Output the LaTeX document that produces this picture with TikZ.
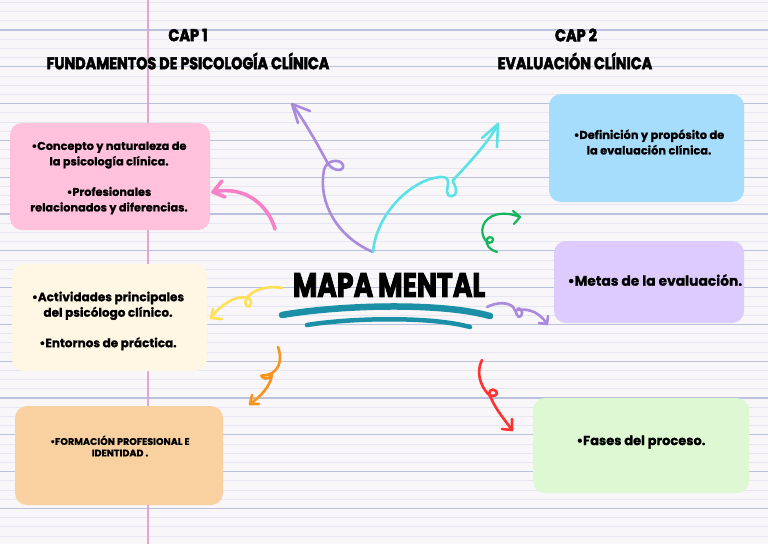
\documentclass[tikz,border=0pt]{standalone}
\usepackage{fontspec}
\setmainfont{Poppins}[BoldFeatures={FakeBold=0.8}]
\newfontfamily\heavyfont{Poppins}[BoldFeatures={FakeBold=3}]
\usepackage{graphicx}
\definecolor{bgc}{HTML}{F8F6F8}
\definecolor{thinl}{HTML}{E6E6F0}
\definecolor{heavyl}{HTML}{B9C1DD}
\definecolor{marg}{HTML}{E2A6D2}
\definecolor{bxpink}{HTML}{FFC1DC}
\definecolor{bxcream}{HTML}{FFF6E4}
\definecolor{bxorange}{HTML}{F9D1A1}
\definecolor{bxblue}{HTML}{A6DCFC}
\definecolor{bxpurple}{HTML}{DCCBFC}
\definecolor{bxgreen}{HTML}{DDF8D3}
\definecolor{arpurple}{HTML}{A98ADC}
\definecolor{arcyan}{HTML}{5CE1E6}
\definecolor{arpink}{HTML}{F780C6}
\definecolor{argreen}{HTML}{12B55A}
\definecolor{aryellow}{HTML}{FFDE59}
\definecolor{arorange}{HTML}{F7941D}
\definecolor{arred}{HTML}{FF3131}
\definecolor{teal}{HTML}{1A8FA6}
\begin{document}
\begin{tikzpicture}[x=1pt,y=-1pt,
  card/.style={rounded corners=12pt,draw=none},
  cardtext/.style={align=center,font=\bfseries\fontsize{11.3}{15.5}\selectfont,text=black},
  curly/.style={line width=2.6pt,line cap=round,line join=round},
  title/.style={font=\heavyfont\bfseries\fontsize{17}{20}\selectfont,text=black,align=center}]
\useasboundingbox (0,0) rectangle (768,544);
\fill[bgc] (0,0) rectangle (768,544);
% ruled lines
\foreach \k in {0,...,59}{
  \pgfmathsetmacro{\yy}{2.4+9.2*\k}
  \draw[thinl,line width=0.8pt] (0,\yy) -- (768,\yy);
}
\foreach \k in {0,...,14}{
  \pgfmathsetmacro{\yy}{30+36.8*\k}
  \draw[heavyl,line width=1.3pt] (0,\yy) -- (768,\yy);
}
\draw[marg,line width=1.5pt] (148,0) -- (148,544);

% titles
\node[title] (cap1) at (188,35) {\scalebox{0.85}[1]{CAP 1}};
\node[title] (fund) at (188,61) {\scalebox{0.84}[1]{FUNDAMENTOS DE PSICOLOGÍA CLÍNICA}};
\node[title] (cap2) at (576,35) {\scalebox{0.85}[1]{CAP 2}};
\node[title] (eval) at (575,61) {\scalebox{0.84}[1]{EVALUACIÓN CLÍNICA}};

% boxes
\fill[card,bxpink] (10,123) rectangle (210,230);
\fill[card,bxcream] (12,264) rectangle (207,371);
\fill[card,bxorange] (15,406) rectangle (223,505);
\fill[card,bxblue] (549,94) rectangle (744,202);
\fill[card,bxpurple] (554,241) rectangle (744,323);
\fill[card,bxgreen] (533,398) rectangle (749,493);

\node[cardtext] (t1) at (109,178) {•Concepto y naturaleza de\\la psicología clínica.\\[15pt]•Profesionales\\relacionados y diferencias.};
\node[cardtext,font=\bfseries\fontsize{12}{15.5}\selectfont] (t2) at (108,321) {•Actividades principales\\del psicólogo clínico.\\[15pt]•Entornos de práctica.};
\node[cardtext,font=\bfseries\fontsize{9.6}{11.5}\selectfont] (t3) at (120,446) {•FORMACIÓN PROFESIONAL E\\IDENTIDAD .};
\node[cardtext,font=\bfseries\fontsize{11.4}{15.5}\selectfont] (t4) at (649,142) {•Definición y propósito de\\la evaluación clínica.};
\node[cardtext,font=\bfseries\fontsize{13.8}{16}\selectfont] (t5) at (655,280) {•Metas de la evaluación.};
\node[cardtext,font=\bfseries\fontsize{13}{16}\selectfont] (t6) at (641,442) {•Fases del proceso.};

% central title
\node[font=\heavyfont\bfseries\fontsize{34}{40}\selectfont,text=black] (mapa) at (389,285) {\scalebox{0.785}[1]{MAPA\hspace{6pt}MENTAL}};
\coordinate (u1a) at (282,315);
\coordinate (u1b) at (490,316);
\coordinate (u2a) at (307,325);
\coordinate (u2b) at (470,327);
\draw[teal,line width=6.5pt,line cap=round] (u1a) .. controls (340,305) and (440,302) .. (u1b);
\draw[teal,line width=4.5pt,line cap=round] (u2a) .. controls (350,318) and (430,316) .. (u2b);

% arrows
% purple up-left
\coordinate (hub) at (373,252);
\coordinate (p1tip) at (292,104);
\draw[curly,arpurple] (hub) .. controls (335,236) and (318,200) .. (324,170)
  .. controls (326,160) and (340,158) .. (343,165)
  .. controls (345,172) and (332,172) .. (327,162)
  .. controls (318,145) and (305,122) .. (p1tip);
\draw[curly,arpurple] (310,111) -- (p1tip) -- (298,123);
% cyan up-right
\coordinate (c1tip) at (498,124);
\draw[curly,arcyan] (hub) .. controls (376,215) and (410,180) .. (440,177)
  .. controls (452,176) and (447,186) .. (447,192)
  .. controls (447,198) and (457,198) .. (456,190)
  .. controls (455,182) and (450,181) .. (455,178)
  .. controls (472,160) and (490,140) .. (c1tip);
\draw[curly,arcyan] (482,138) -- (c1tip) -- (497,147);
% pink
\coordinate (pkstart) at (275,229);
\coordinate (pktip) at (213,192);
\draw[curly,arpink,line width=3.6pt] (pkstart) .. controls (268,205) and (245,185) .. (pktip);
\draw[curly,arpink,line width=3.6pt] (222,181) -- (pktip) -- (225,197);
% green
\coordinate (gstart) at (497,252);
\coordinate (gtip) at (520,217);
\draw[curly,argreen,line width=2.2pt] (gstart) .. controls (490,250) and (485,245) .. (487,239)
  .. controls (489,235) and (496,238) .. (492,242)
  .. controls (486,246) and (478,232) .. (485,222)
  .. controls (492,212) and (508,212) .. (gtip);
\draw[curly,argreen,line width=2.2pt] (513,211) -- (gtip) -- (514,224);
% yellow
\coordinate (ystart) at (282,288);
\coordinate (ytip) at (211,318);
\draw[curly,aryellow] (ystart) .. controls (268,285) and (252,290) .. (247,298)
  .. controls (242,306) and (250,310) .. (251,303)
  .. controls (252,296) and (240,296) .. (232,300)
  .. controls (222,305) and (215,312) .. (ytip);
\draw[curly,aryellow] (213,309) -- (ytip) -- (222,319);
% orange
\coordinate (ostart) at (278,347);
\coordinate (otip) at (250,404);
\draw[curly,arorange] (ostart) .. controls (282,358) and (280,368) .. (272,373)
  .. controls (265,377) and (259,374) .. (262,377)
  .. controls (266,381) and (272,376) .. (272,375)
  .. controls (270,387) and (260,397) .. (otip);
\draw[curly,arorange] (252,395) -- (otip) -- (259,404);
% purple right
\coordinate (p2start) at (487,307);
\coordinate (p2tip) at (547,324);
\draw[curly,arpurple] (p2start) .. controls (497,302) and (508,302) .. (513,307)
  .. controls (517,312) and (517,320) .. (521,316)
  .. controls (525,312) and (518,305) .. (517,310)
  .. controls (530,308) and (540,313) .. (p2tip);
\draw[curly,arpurple] (539,323) -- (p2tip) -- (548,316);
% red
\coordinate (rstart) at (482,360);
\coordinate (rtip) at (512,430);
\draw[curly,arred] (rstart) .. controls (476,372) and (480,385) .. (488,394)
  .. controls (492,398) and (500,395) .. (496,391)
  .. controls (492,387) and (486,392) .. (491,398)
  .. controls (496,410) and (505,420) .. (rtip);
\draw[curly,arred] (502,429) -- (rtip) -- (512,419);
\end{tikzpicture}
\end{document}
